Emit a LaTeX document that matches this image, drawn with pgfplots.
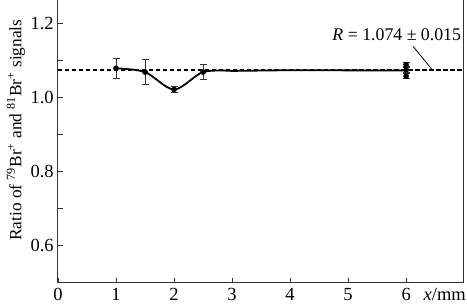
\documentclass[border=0pt]{standalone}
\usepackage{pgfplots}
\pgfplotsset{compat=1.18}
\usepackage{fontspec}
\setmainfont{Liberation Serif}
\begin{document}
\fontsize{18.5}{22}\selectfont
\begin{tikzpicture}
\begin{axis}[
  scale only axis, width=405pt, height=283pt,
  xmin=0, xmax=6.98, ymin=0.5, ymax=1.262,
  axis x line*=bottom, axis y line*=left,
  axis line style={line width=1pt, black!80, -},
  xtick={0,1,2,3,4,5,6}, ytick={0.6,0.8,1.0,1.2},
  minor ytick={0.7,0.9,1.1},
  /pgf/number format/assume math mode=true,
  tick align=inside, major tick length=5pt, minor tick length=5pt,
  tick style={line width=0.8pt, black!80},
  ticklabel style={font=\fontsize{18.5}{22}\selectfont},
  yticklabel style={xshift=2pt, /pgf/number format/.cd, fixed, fixed zerofill, precision=1},
  xticklabel style={yshift=1pt},
  xlabel={\textit{x}/mm},
  xlabel style={at={(ticklabel cs:0.955)}, anchor=base, inner sep=0pt, yshift=7pt},
  ylabel={Ratio of \textsuperscript{79}Br\textsuperscript{+} and \textsuperscript{81}Br\textsuperscript{+} signals},
  ylabel style={at={(axis description cs:-0.081,0.54)}, anchor=south, inner sep=0pt, font=\fontsize{17.3}{20}\selectfont},
  clip=false,
]
\coordinate (O) at (rel axis cs:0,0);
\draw[line width=1pt, black!80] (rel axis cs:1,0) -- (rel axis cs:1,1);
\addplot[black, line width=1.6pt, dash pattern=on 4.5pt off 2.5pt] coordinates {(0,1.074) (6.98,1.074)};
\addplot[black, line width=1.8pt, smooth, tension=0.5] coordinates {(1,1.078) (1.5,1.068) (2,1.021) (2.5,1.068) (3,1.071)};
\addplot[black, line width=1.8pt] coordinates {(3,1.071) (4,1.073) (6,1.072)};
\addplot[black, only marks, mark=*, mark size=2.6pt,
  error bars/.cd, y dir=both, y explicit,
  error bar style={line width=1pt, black!80},
  error mark options={rotate=90, mark size=3.5pt, line width=1pt, black!80}]
  coordinates {
  (1,1.078) +- (0,0.027)
  (1.5,1.068) +- (0,0.034)
  (2,1.021) +- (0,0.007)
  (2.5,1.068) +- (0,0.019)
  (6,1.088) +- (0,0.006)
  (6,1.074) +- (0,0.006)
  (6,1.057) +- (0,0.006)
  };
\draw[black, line width=0.8pt] (axis cs:6.12,1.137) -- (axis cs:6.45,1.074);
\node[anchor=east, inner sep=0pt, font=\fontsize{17.8}{20}\selectfont] at (axis cs:6.95,1.168) {\textit{R} = 1.074 ± 0.015};
\end{axis}
\pgfresetboundingbox
\path (O) ++(-58pt,-21pt) rectangle ++(467pt,304pt);
\end{tikzpicture}
\end{document}
